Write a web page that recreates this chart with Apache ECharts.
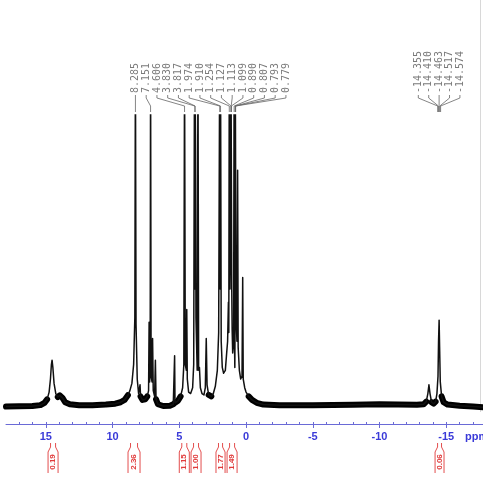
<!DOCTYPE html>
<html>
<head>
<meta charset="utf-8">
<script src="https://cdn.jsdelivr.net/npm/echarts@6/dist/echarts.min.js"></script>
<style>
  html, body { margin: 0; padding: 0; background: #fff; }
  #chart { width: 483px; height: 499px; }
</style>
</head>
<body>
<div id="chart"></div>
<script>
// spectrum: [ppm, intensity] (tall lines clipped at top)
var spectrum = [
  [17.98, -0.5], [17, -0.4], [16, -0.3], [15.4, 0], [15.1, 0.8], [14.9, 2], [14.75, 4.5],
  [14.65, 9], [14.58, 14], [14.53, 15.5], [14.47, 13], [14.38, 7.5], [14.25, 4], [14.1, 2.8],
  [13.95, 3.4], [13.86, 3.8], [13.75, 2.5], [13.55, 1], [13.2, 0.3], [12.5, 0], [11.5, 0],
  [10.5, 0.2], [9.8, 0.5], [9.4, 1], [9.1, 1.8], [8.85, 3.4], [8.7, 5], [8.55, 7.5], [8.42, 14],
  [8.33, 30], [8.285, 120], [8.24, 28], [8.15, 9], [8.05, 4], [7.97, 4], [7.94, 7], [7.9, 3],
  [7.75, 1.8], [7.55, 2], [7.4, 3], [7.3, 5], [7.26, 28.6], [7.22, 8], [7.18, 12], [7.151, 120],
  [7.11, 10], [7.04, 8], [7.0, 23], [6.95, 5], [6.85, 3], [6.79, 15.5], [6.74, 2], [6.6, 0.3],
  [6.2, -0.3], [5.7, -0.2], [5.45, 0.3], [5.38, 0.6], [5.35, 17], [5.32, 0.8], [5.1, 1.5],
  [4.9, 3], [4.75, 6], [4.66, 14], [4.606, 120], [4.55, 14], [4.47, 12], [4.44, 33], [4.4, 9],
  [4.3, 4.5], [4.15, 4], [4.0, 6], [3.92, 14], [3.86, 120], [3.84, 40], [3.83, 120], [3.817, 120],
  [3.78, 88], [3.75, 30], [3.72, 30], [3.66, 12], [3.6, 120], [3.55, 12], [3.49, 13], [3.42, 6],
  [3.3, 4], [3.15, 3.5], [3.05, 6], [2.98, 23], [2.92, 7], [2.8, 3.5], [2.6, 3], [2.45, 4],
  [2.3, 6.5], [2.15, 12], [2.05, 25], [1.974, 120], [1.94, 40], [1.91, 120], [1.86, 22],
  [1.78, 13], [1.68, 11], [1.55, 12], [1.45, 18], [1.38, 22], [1.32, 35.5], [1.29, 25],
  [1.254, 120], [1.2, 40], [1.15, 60], [1.127, 120], [1.113, 120], [1.099, 120], [1.07, 40],
  [1.04, 26], [1.0, 18], [0.93, 22], [0.89, 120], [0.86, 20], [0.84, 13], [0.82, 30],
  [0.807, 120], [0.793, 120], [0.779, 120], [0.75, 30], [0.72, 27], [0.68, 22], [0.63, 81],
  [0.59, 20], [0.5, 12], [0.4, 9], [0.3, 10], [0.25, 44], [0.21, 9], [0.1, 6], [0, 4.5],
  [-0.2, 3], [-0.45, 1.8], [-0.8, 0.8], [-1.3, 0.2], [-2.5, 0], [-5, 0], [-8, 0.1], [-10, 0.3],
  [-12.8, 0.1], [-13.3, 0.3], [-13.5, 1.2], [-13.62, 4], [-13.7, 7], [-13.78, 4], [-13.9, 1],
  [-14.05, 0.5], [-14.2, 1.2], [-14.3, 4], [-14.38, 10], [-14.42, 22], [-14.463, 29.3],
  [-14.5, 20], [-14.55, 8], [-14.65, 3], [-14.8, 1], [-15.1, 0.2], [-16, -0.2], [-17, -0.5],
  [-17.75, -0.7]
];

// picked peaks
var leftPeaks = [8.285, 7.151, 4.606, 3.830, 3.817, 1.974, 1.910, 1.254, 1.127, 1.113, 1.099, 0.890, 0.807, 0.793, 0.779];
var rightPeaks = [-14.355, -14.410, -14.463, -14.517, -14.574];

// integrals
var integralFrom = [14.83, 8.84, 5.0, 4.12, 2.25, 1.42, -14.16];
var integralTo = [14.08, 7.94, 4.25, 3.37, 1.57, 0.67, -14.83];
var integralValues = [0.19, 2.36, 1.15, 1.00, 1.77, 1.49, 0.06];

var majorTicks = [15, 10, 5, 0, -5, -10, -15];
var minorTicks = [];
for (var t = -17; t <= 17; t++) minorTicks.push(t);

var blue = '#3a3ad8';
var red = '#e03a3a';

// noise band along the low parts of the trace
var band = spectrum.map(function (p) { return p[1] < 4 ? p : [p[0], null]; });

var chart = echarts.init(document.getElementById('chart'));

function peakLabelItem(peaks, mode) {
    return function (params, api) {
        var i = params.dataIndex;
        var ppm = api.value(0);
        var px = api.coord([ppm, 0])[0];
        var tx;
        if (mode === 'left') {
            tx = api.coord([peaks[0], 0])[0] + i * 10.75;
        } else {
            tx = api.coord([peaks[2], 0])[0] + (i - 2) * 10.4;
        }
        return {
            type: 'group',
            children: [{
                type: 'polyline',
                shape: { points: [[tx, 95], [tx, 98], [px, 106], [px, 112]] },
                style: { stroke: '#666', fill: null, lineWidth: 0.8 }
            }, {
                type: 'text',
                x: tx,
                y: 93,
                rotation: Math.PI / 2,
                style: {
                    text: ppm.toFixed(3),
                    font: '10px "DejaVu Sans Mono"',
                    fill: '#7a7a7a',
                    align: 'left',
                    verticalAlign: 'middle'
                }
            }]
        };
    };
}

var option = {
    animation: false,
    grid: { left: 6, right: 0, top: 115, bottom: 75 },
    xAxis: [{
        type: 'value',
        inverse: true,
        min: -17.75,
        max: 17.98,
        position: 'bottom',
        axisLine: { onZero: false, lineStyle: { color: '#6a6ad6', width: 1 } },
        axisTick: { show: true, customValues: majorTicks, length: 4, lineStyle: { color: '#6a6ad6' } },
        axisLabel: {
            customValues: majorTicks,
            color: blue,
            fontWeight: 'bold',
            fontSize: 11,
            fontFamily: 'Liberation Sans',
            margin: 7
        },
        splitLine: { show: false }
    }, {
        type: 'value',
        inverse: true,
        min: -17.75,
        max: 17.98,
        position: 'bottom',
        offset: 0,
        axisLine: { show: false, onZero: false },
        axisTick: { show: true, inside: true, customValues: minorTicks, length: 2, lineStyle: { color: '#6a6ad6' } },
        axisLabel: { show: false },
        splitLine: { show: false }
    }],
    yAxis: {
        type: 'value',
        min: -6.5,
        max: 100,
        show: false
    },
    graphic: [{
        type: 'text',
        left: 465,
        top: 431,
        style: { text: 'ppm', fill: blue, font: 'bold 11px "Liberation Sans"' }
    }, {
        type: 'line',
        shape: { x1: 480.5, y1: 0, x2: 480.5, y2: 412 },
        style: { stroke: '#d8d8d8', lineWidth: 1 }
    }],
    series: [{
        type: 'line',
        data: band,
        showSymbol: false,
        connectNulls: false,
        lineStyle: { color: '#000', width: 6, join: 'round', cap: 'round' },
        silent: true
    }, {
        type: 'line',
        data: spectrum,
        showSymbol: false,
        lineStyle: { color: '#111', width: 1.5, join: 'round' },
        silent: true
    }, {
        type: 'custom',
        data: leftPeaks.map(function (v) { return [v, 0]; }),
        renderItem: peakLabelItem(leftPeaks, 'left'),
        silent: true
    }, {
        type: 'custom',
        data: rightPeaks.map(function (v) { return [v, 0]; }),
        renderItem: peakLabelItem(rightPeaks, 'right'),
        silent: true
    }, {
        type: 'custom',
        data: integralValues.map(function (v, i) { return [integralFrom[i], integralTo[i], v]; }),
        renderItem: function (params, api) {
            var x1 = api.coord([api.value(0), 0])[0];
            var x2 = api.coord([api.value(1), 0])[0];
            var cx = (x1 + x2) / 2;
            var st = { stroke: red, fill: null, lineWidth: 0.9 };
            return {
                type: 'group',
                children: [{
                    type: 'polyline',
                    shape: { points: [[x1, 473], [x1, 452], [x1 + 2.5, 447], [x1 + 2.5, 443]] },
                    style: st
                }, {
                    type: 'polyline',
                    shape: { points: [[x2, 473], [x2, 452], [x2 - 2.5, 447], [x2 - 2.5, 443]] },
                    style: st
                }, {
                    type: 'text',
                    x: cx,
                    y: 462,
                    rotation: Math.PI / 2,
                    style: {
                        text: api.value(2).toFixed(2),
                        font: 'bold 8px "Liberation Sans"',
                        fill: red,
                        align: 'center',
                        verticalAlign: 'middle'
                    }
                }]
            };
        },
        silent: true
    }]
};
chart.setOption(option);
</script>
</body>
</html>
